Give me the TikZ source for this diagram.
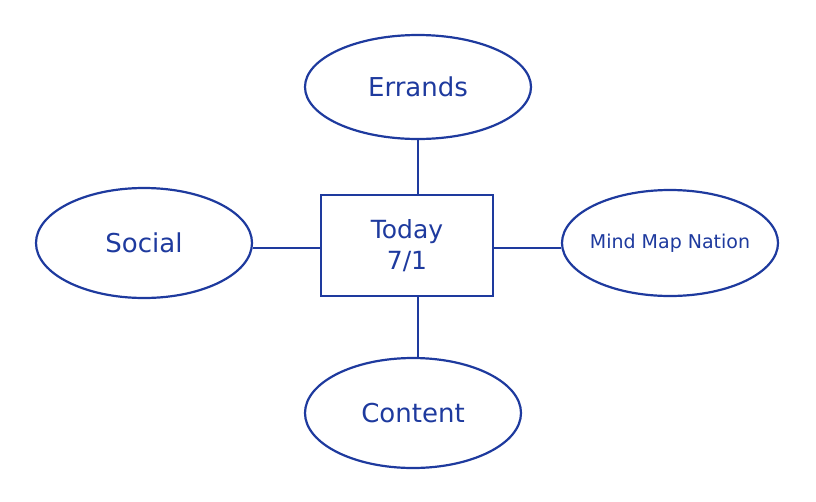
\documentclass[tikz,border=0pt]{standalone}
\usepackage{fontspec}
\setmainfont{DejaVu Sans}
\usetikzlibrary{shapes.geometric}
\definecolor{ink}{HTML}{1E3A9E}
\begin{document}
\begin{tikzpicture}[x=1pt,y=-1pt,line width=2.2pt,draw=ink,
  bub/.style={ellipse,draw=ink,line width=2.2pt,text=ink,inner sep=0pt},
  lnk/.style={draw=ink,line width=2.2pt}]
\useasboundingbox (0,0) rectangle (816,501);
\node[bub,minimum width=226pt,minimum height=104pt,font=\fontsize{26}{30}\selectfont] (err) at (418,87) {Errands};
\node[bub,minimum width=216pt,minimum height=110pt,font=\fontsize{26}{30}\selectfont] (soc) at (144,243) {Social};
\node[bub,minimum width=216pt,minimum height=106pt] (mmn) at (670,243) {};
\node[text=ink,font=\fontsize{19}{22}\selectfont] (mmnt) at (mmn.center) {Mind Map Nation};
\node[bub,minimum width=216pt,minimum height=110pt,font=\fontsize{26}{30}\selectfont] (con) at (413,413) {Content};
\node[draw=ink,line width=2.2pt,text=ink,minimum width=172pt,minimum height=101pt,align=center,font=\fontsize{25}{31}\selectfont] (box) at (407,245.5) {Today\\7/1};
\coordinate (bt) at (418,195); \coordinate (bb) at (418,296);
\draw[lnk] (bt) -- (err.south -| bt);
\draw[lnk] (bb) -- (418,358);
\draw[lnk] (box.west |- 0,248) -- (soc.east |- 0,248);
\draw[lnk] (box.east |- 0,248) -- (mmn.west |- 0,248);
\end{tikzpicture}
\end{document}
